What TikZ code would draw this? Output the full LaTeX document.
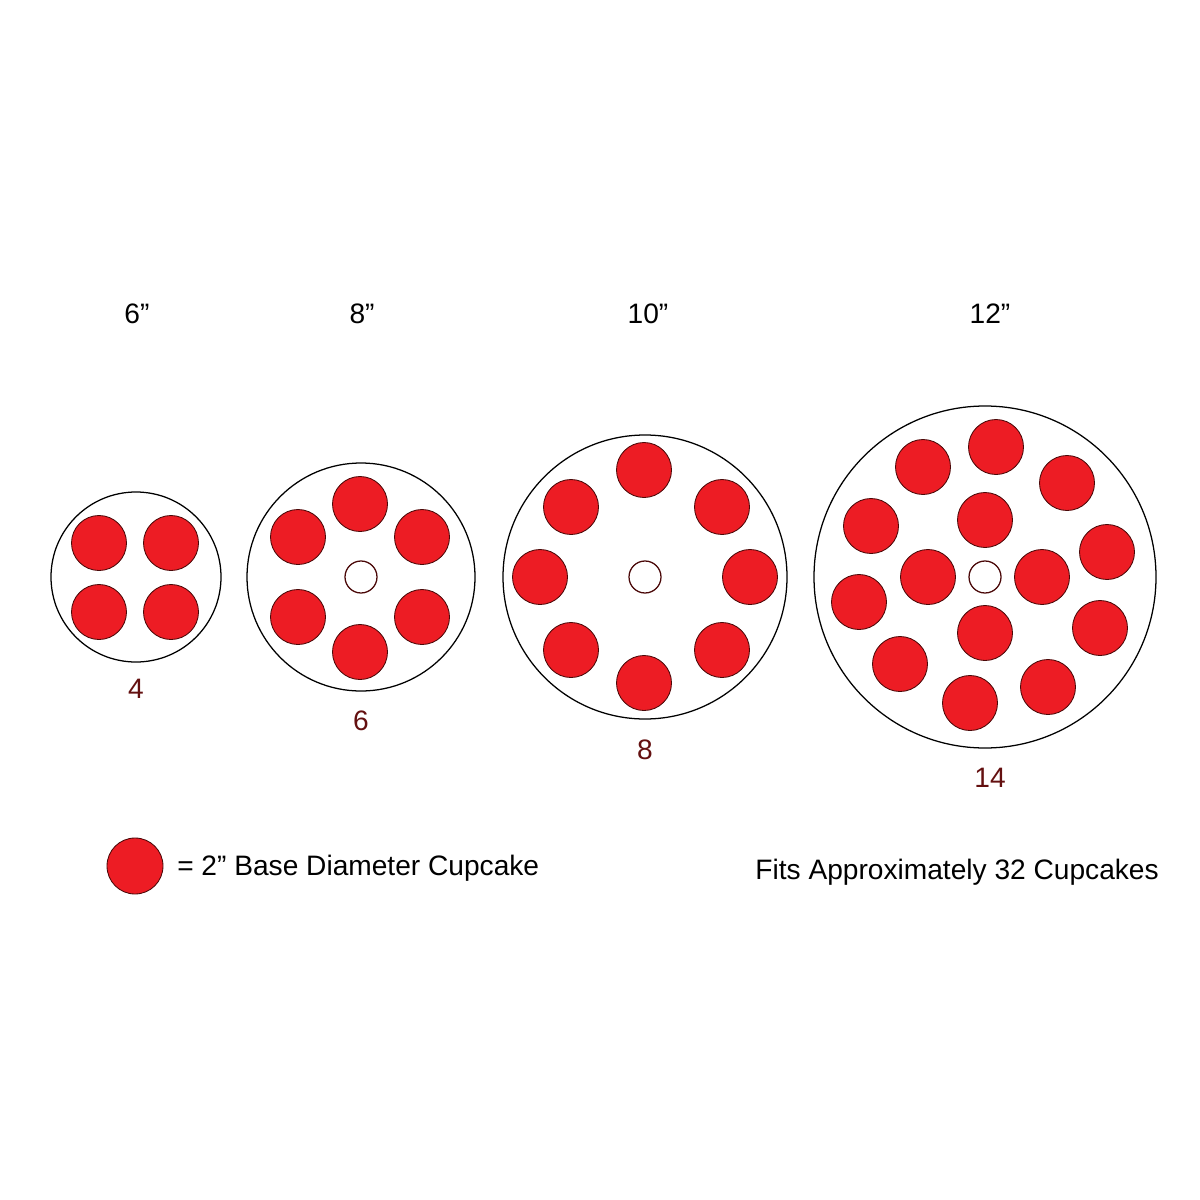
\documentclass[tikz,border=0pt]{standalone}
\usepackage{fontspec}
\setmainfont{Liberation Sans}
\definecolor{cakered}{HTML}{ED1C24}
\definecolor{rimdark}{HTML}{4A0808}
\definecolor{countred}{HTML}{641010}
\tikzset{
  board/.style={draw=black,line width=0.9pt,fill=white},
  cupcake/.style={draw=rimdark,fill=cakered,line width=0.6pt},
  hole/.style={draw=rimdark,fill=white,line width=0.9pt},
  sizelabel/.style={font=\fontsize{20}{24}\selectfont,text=black,inner sep=0pt},
  countlabel/.style={font=\fontsize{20}{24}\selectfont,text=countred,inner sep=0pt},
  notetext/.style={font=\fontsize{20}{24}\selectfont,text=black,inner sep=0pt}
}

\begin{document}
\begin{tikzpicture}[x=0.025cm,y=-0.025cm]
  \useasboundingbox[fill=white] (0,0) rectangle (1200,1200);

  % size labels
  \node[sizelabel] (s6)  at (137,314) {6”};
  \node[sizelabel] (s8)  at (362,314) {8”};
  \node[sizelabel] (s10) at (648,314) {10”};
  \node[sizelabel] (s12) at (990,314) {12”};

  % 6 inch board: four cupcakes
  \draw[board] (136,577) circle[radius=85];
  \foreach \cx/\cy in {99/543,171/543,99/612,171/612} {
    \draw[cupcake] (\cx,\cy) circle[radius=27.5];
  }
  \node[countlabel] (n6) at (136,689) {4};

  % 8 inch board: six round the hole
  \draw[board] (361,577) circle[radius=114];
  \draw[hole] (361,577) circle[radius=16];
  \foreach \cx/\cy in {360/504,298/537,422/537,298/617,422/617,360/652} {
    \draw[cupcake] (\cx,\cy) circle[radius=27.5];
  }
  \node[countlabel] (n8) at (361,721) {6};

  % 10 inch board: ring of eight
  \draw[board] (645,577) circle[radius=142];
  \draw[hole] (645,577) circle[radius=16];
  \foreach \cx/\cy in {644/470,571/507,722/507,540/577,750/577,571/650,722/650,644/683} {
    \draw[cupcake] (\cx,\cy) circle[radius=27.5];
  }
  \node[countlabel] (n10) at (645,750) {8};

  % 12 inch board: inner four + outer ten
  \draw[board] (985,577) circle[radius=171];
  \draw[hole] (985,577) circle[radius=16];
  \foreach \cx/\cy in {985/520,928/577,1042/577,985/633} {
    \draw[cupcake] (\cx,\cy) circle[radius=27.5];
  }
  \foreach \cx/\cy in {996/447,923/467,1067/483,871/526,1107/552,
                       859/602,1100/628,900/664,1048/687,970/703} {
    \draw[cupcake] (\cx,\cy) circle[radius=27.5];
  }
  \node[countlabel] (n12) at (990,778) {14};

  % legend
  \draw[cupcake] (135,866) circle[radius=28];
  \node[notetext,anchor=west] (key) at (177,868) {= 2” Base Diameter Cupcake};
  \node[notetext,anchor=east] (total) at (1159,872) {Fits Approximately 32 Cupcakes};
\end{tikzpicture}
\end{document}
